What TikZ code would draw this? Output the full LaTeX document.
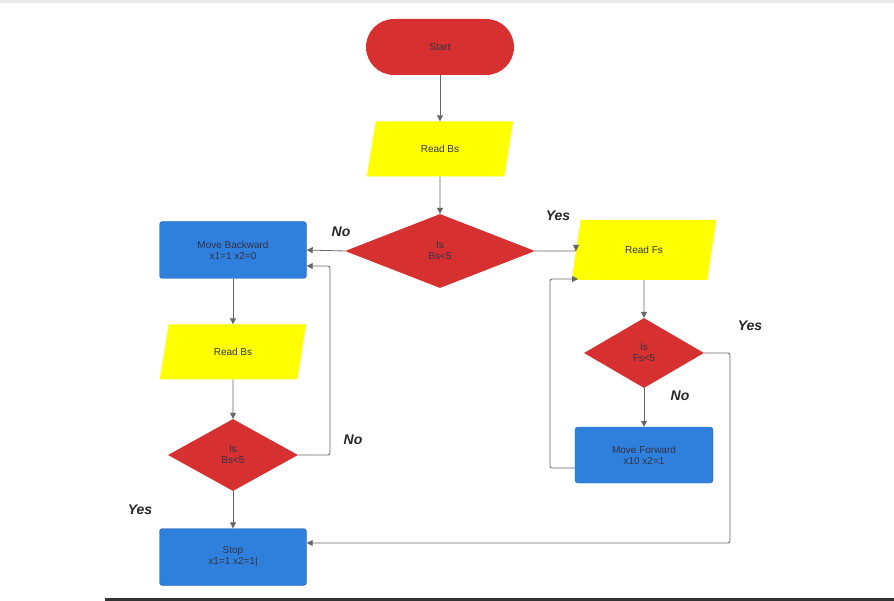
\documentclass[tikz,border=0pt]{standalone}
\usepackage{fontspec}
\setmainfont{Liberation Sans}
\usetikzlibrary{shapes.geometric,arrows.meta}
\definecolor{fred}{HTML}{D63031}
\definecolor{fyel}{HTML}{FFFF00}
\definecolor{fblu}{HTML}{2F80DC}
\definecolor{ftxt}{HTML}{333344}
\definecolor{fline}{HTML}{666666}
\begin{document}
\begin{tikzpicture}[x=1pt,y=-1pt,
  txt/.style={font=\fontsize{10}{11}\selectfont,text=ftxt,align=center,inner sep=0},
  proc/.style={txt,draw=fblu!80!black,line width=0.4pt,fill=fblu,rounded corners=3,minimum width=147,minimum height=57},
  io/.style={txt,fill=fyel,trapezium,trapezium left angle=70,trapezium right angle=110,trapezium stretches=true,minimum width=147,minimum height=55},
  dec/.style={txt,fill=fred,diamond,aspect=2.5},
  lab/.style={font=\bfseries\itshape\fontsize{14}{14}\selectfont,text=black!85},
  arr/.style={draw=fline,line width=0.8pt,-{Triangle[length=6,width=6]},rounded corners=2}]
\useasboundingbox (0,0) rectangle (894,601);
\fill[black!8] (0,0) rectangle (894,3);
\fill[black!80] (105,598) rectangle (894,601);
\node[txt,fill=fred,rounded corners=28,minimum width=148,minimum height=56] (start) at (440,47) {Start};
\node[io] (rb1) at (440,149) {Read Bs};
\node[dec,minimum width=190,minimum height=74] (d1) at (440,251) {Is\\Bs<5};
\node[proc] (mb) at (233,250) {Move Backward\\x1=1 x2=0};
\node[io] (rb2) at (233,352) {Read Bs};
\node[dec,minimum width=130,minimum height=72,aspect=1.8] (d2) at (233,455) {Is\\Bs<5};
\node[proc] (stop) at (233,557) {Stop\\x1=1 x2=1\textbar};
\node[io,minimum width=145,minimum height=60] (rf) at (644,250) {Read Fs};
\node[dec,minimum width=120,minimum height=70,aspect=1.7] (d3) at (644,353) {Is\\Fs<5};
\node[proc,minimum width=138,minimum height=56] (mf) at (644,455) {Move Forward\\x10 x2=1};
\coordinate (c1) at (330,455); \coordinate (c2) at (330,266);
\coordinate (c3) at (550,468); \coordinate (c4) at (550,279);
\coordinate (c5) at (730,353); \coordinate (c6) at (730,543);
\draw[arr] (start) -- (rb1);
\draw[arr] (rb1) -- (d1);
\draw[arr] (d1.west) -- (mb.east);
\draw[arr] (d1.east) -- (rf.west|-d1.east) -- ++(0,0);
\draw[arr] (mb) -- (rb2);
\draw[arr] (rb2) -- (d2);
\draw[arr] (d2) -- (stop);
\draw[arr] (d2.east) -- (c1) -- (c2) -- (mb.east|-c2);
\draw[arr] (rf) -- (d3);
\draw[arr] (d3) -- (mf);
\draw[arr] (mf.west|-c3) -- (c3) -- (c4) -- (578,279);
\draw[arr] (d3.east) -- (c5) -- (c6) -- (stop.east|-c6);
\node[lab] (l1) at (558,216) {Yes};
\node[lab] (l2) at (341,232) {No};
\node[lab] (l3) at (750,326) {Yes};
\node[lab] (l4) at (680,396) {No};
\node[lab] (l5) at (353,440) {No};
\node[lab] (l6) at (140,510) {Yes};
\end{tikzpicture}
\end{document}
